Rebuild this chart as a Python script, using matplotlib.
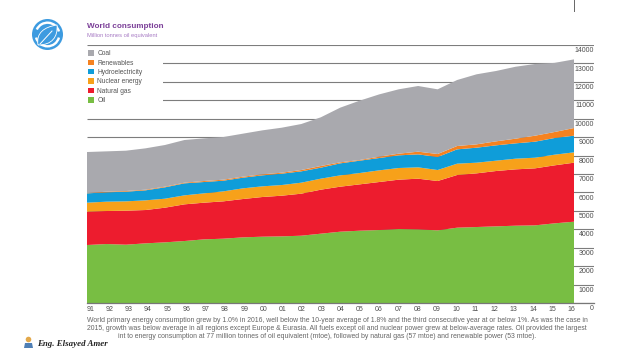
import numpy as np
import matplotlib
matplotlib.use("Agg")
import matplotlib.pyplot as plt
from matplotlib.patches import Circle, Rectangle, Wedge, PathPatch, Polygon
from matplotlib.path import Path
from matplotlib.transforms import ScaledTranslation

years = list(range(1991, 2017))
year_labels = ['91','92','93','94','95','96','97','98','99','00','01','02','03','04','05','06','07','08','09','10','11','12','13','14','15','16']

oil = [3146,3200,3164,3237,3291,3363,3453,3490,3562,3598,3616,3652,3761,3869,3924,3960,4014,3996,3942,4087,4123,4159,4195,4213,4322,4412]
gas = [1809,1791,1845,1808,1881,1990,1990,2026,2080,2153,2207,2280,2388,2443,2514,2605,2678,2750,2677,2858,2912,3003,3057,3094,3147,3202]
nuclear = [488,507,507,525,488,488,507,542,579,579,579,597,597,615,615,633,633,615,597,615,579,561,579,578,579,561]
hydro = [507,506,524,543,616,652,615,579,579,597,615,615,597,651,670,669,687,705,706,778,814,832,832,869,905,904]
renewables = [18,36,36,36,36,36,54,55,54,54,54,72,90,54,36,73,91,145,163,181,181,217,254,325,325,416]
coal = [2225,2189,2189,2243,2261,2315,2316,2315,2334,2387,2442,2496,2642,2968,3221,3380,3492,3564,3510,3581,3801,3818,3903,3891,3752,3725]

names = ['Oil','Natural gas','Nuclear energy','Hydroelectricity','Renewables','Coal']
colors = ['#78BE43','#ED1C2E','#F7A11A','#0F9DD9','#F58220','#A9A9AE']
yticks = list(range(0, 15000, 1000))

body = ["World primary energy consumption grew by 1.0% in 2016, well below the 10-year average of 1.8% and the third consecutive year at or below 1%. As was the case in",
        "2015, growth was below average in all regions except Europe & Eurasia. All fuels except oil and nuclear power grew at below-average rates. Oil provided the largest",
        "int to energy consumption at 77 million tonnes of oil equivalent (mtoe), followed by natural gas (57 mtoe) and renewable power (53 mtoe)."]

plt.rcParams['font.family'] = ['Liberation Sans', 'DejaVu Sans']
W, H = 638, 359
fig = plt.figure(figsize=(W/100, H/100), dpi=100)

# axes box in pixels: x 87-594, y 45-303
ax = fig.add_axes([87/W, 1-303/H, (594-87)/W, (303-45)/H])
ax.set_xlim(1991, 1991 + (594-87)/19.48)
ax.set_ylim(0, 14000)
stacks = ax.stackplot(years, oil, gas, nuclear, hydro, renewables, coal, colors=colors, labels=names, lw=0, zorder=3)
ax.hlines(yticks, 1991, ax.get_xlim()[1], color='#7d7d7d', lw=0.8, zorder=1)

for s in ['top','left','right']:
    ax.spines[s].set_visible(False)
ax.spines['bottom'].set_color('#777777')
ax.spines['bottom'].set_linewidth(0.9)
ax.spines['bottom'].set_zorder(5)

ax.yaxis.tick_right()
ax.set_yticks(yticks)
ax.set_yticklabels([str(v) for v in yticks], ha='right', va='top')
ax.tick_params(axis='y', length=0, pad=0, labelsize=5, labelcolor='#4d4d4d')
shift = ScaledTranslation(0, -2.2/100, fig.dpi_scale_trans)
for lbl in ax.get_yticklabels():
    lbl.set_transform(lbl.get_transform() + shift)
ax.set_xticks(np.array(years) + 0.17 - np.arange(26)*0.012)
ax.set_xticklabels(year_labels)
ax.tick_params(axis='x', length=0, pad=2.2, labelsize=5, labelcolor='#4d4d4d')

# overlay in pixel coordinates for the page furniture
deco = fig.add_axes([0, 0, 1, 1], zorder=10)
deco.set_xlim(0, W)
deco.set_ylim(H, 0)
deco.axis('off')
deco.patch.set_alpha(0)

deco.add_patch(Rectangle((86, 48), 77, 66, fc='white', ec='none'))
deco.plot([574, 574], [0, 11], color='#666666', lw=0.7)

deco.text(87, 27, 'World consumption', color='#7B3F98', fontsize=5.9, fontweight='bold', va='center')
deco.text(87, 35.5, 'Million tonnes oil equivalent', color='#A77BC4', fontsize=4.15, va='center')

leg = ax.legend(stacks[::-1], names[::-1], loc='upper left', bbox_to_anchor=(0.002, 0.98), frameon=False,
                fontsize=4.8, labelcolor='#555555', handlelength=0.85, handleheight=0.85, handletextpad=0.55,
                labelspacing=0.36, borderpad=0, borderaxespad=0)
leg.remove()
deco.add_artist(leg)

for i, line in enumerate(body):
    deco.text(87 if i < 2 else 118, [321, 328.7, 336.7][i], line, color='#666666', fontsize=4.93, va='center')

# logo
deco.add_patch(Circle((47.5, 34.5), 15.5, fc='#3D9BE0', ec='none'))
deco.add_patch(Wedge((47.5, 34.5), 13, 15, 165, width=2.4, fc='white', ec='none'))
deco.add_patch(Wedge((47.5, 34.5), 13, 205, 345, width=2.4, fc='white', ec='none'))
leaf = Path([(38, 45), (36, 33), (44, 27), (57, 25), (58, 37), (52, 45), (38, 45)],
            [Path.MOVETO, Path.CURVE4, Path.CURVE4, Path.CURVE4, Path.CURVE4, Path.CURVE4, Path.CURVE4])
deco.add_patch(PathPatch(leaf, fc='#3D9BE0', ec='white', lw=0.6))
deco.plot([40, 52], [44, 31], color='white', lw=0.7)

# signature
deco.add_patch(Circle((28.5, 339.5), 2.8, fc='#E3A84A', ec='none'))
deco.add_patch(Polygon([(24, 348), (25, 343), (32, 343), (33, 348)], fc='#4F7FB5', ec='none'))
deco.text(37, 343.5, 'Eng. Elsayed Amer', family=['Liberation Serif'], style='italic', fontweight='bold',
          fontsize=6.4, color='#222222', va='center')

fig.savefig('out.png', dpi=100)
